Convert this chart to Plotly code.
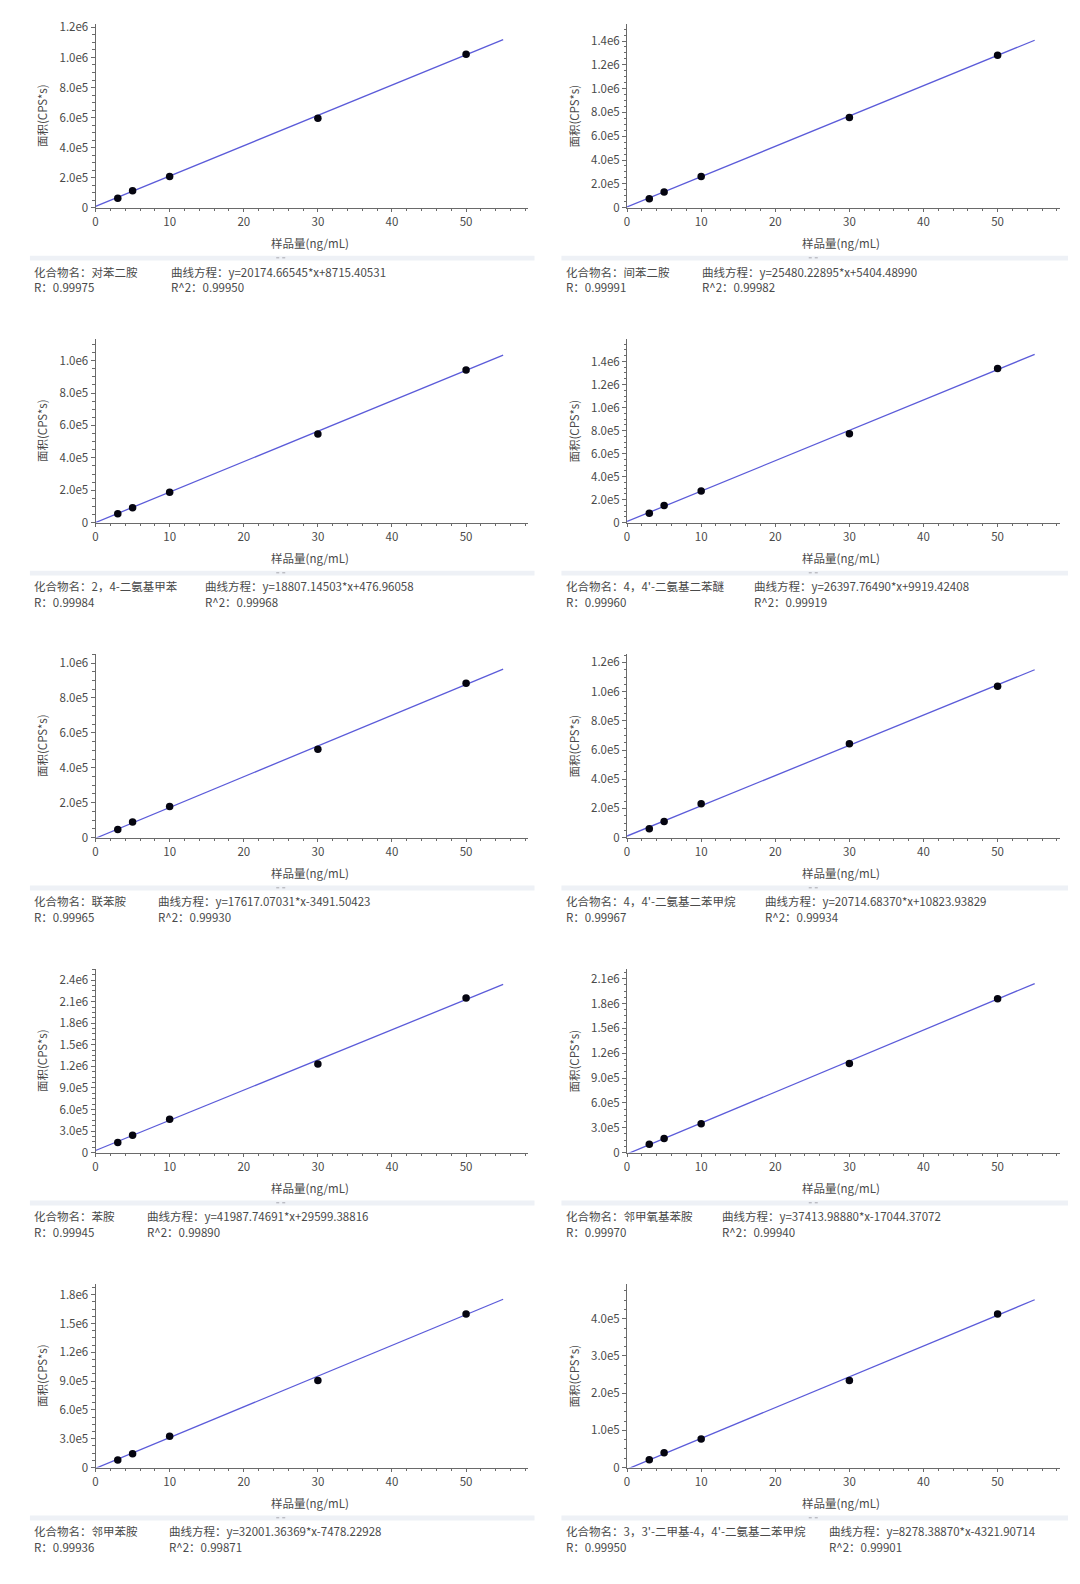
import plotly.graph_objects as go

# ---------------- data ----------------
CONC = [3, 5, 10, 30, 50]          # 样品量 (ng/mL)
LINE_X = [0, 55]                    # span of fitted line

NAMES = ["对苯二胺", "间苯二胺", "2，4-二氨基甲苯", "4，4'-二氨基二苯醚", "联苯胺",
         "4，4'-二氨基二苯甲烷", "苯胺", "邻甲氧基苯胺", "邻甲苯胺",
         "3，3'-二甲基-4，4'-二氨基二苯甲烷"]

AREA_1 = [62000, 112000, 207000, 596000, 1022000]
AREA_2 = [75000, 132000, 262000, 758000, 1280000]
AREA_3 = [55000, 92000, 188000, 548000, 942000]
AREA_4 = [82000, 149000, 275000, 772000, 1338000]
AREA_5 = [47000, 89000, 178000, 506000, 884000]
AREA_6 = [61000, 111000, 232000, 643000, 1037000]
AREA_7 = [142000, 243000, 464000, 1233000, 2150000]
AREA_8 = [100000, 171000, 347000, 1075000, 1858000]
AREA_9 = [80000, 145000, 327000, 908000, 1600000]
AREA_10 = [21000, 40000, 77000, 234000, 413000]
AREAS = [AREA_1, AREA_2, AREA_3, AREA_4, AREA_5, AREA_6, AREA_7, AREA_8, AREA_9, AREA_10]

SLOPES = [20174.66545, 25480.22895, 18807.14503, 26397.76490, 17617.07031,
          20714.68370, 41987.74691, 37413.98880, 32001.36369, 8278.38870]
INTERCEPTS = [8715.40531, 5404.48990, 476.96058, 9919.42408, -3491.50423,
              10823.93829, 29599.38816, -17044.37072, -7478.22928, -4321.90714]
R_VALUES = ["0.99975", "0.99991", "0.99984", "0.99960", "0.99965",
            "0.99967", "0.99945", "0.99970", "0.99936", "0.99950"]
R2_VALUES = ["0.99950", "0.99982", "0.99968", "0.99919", "0.99930",
             "0.99934", "0.99890", "0.99940", "0.99871", "0.99901"]

X_TICKS = [0, 10, 20, 30, 40, 50]
Y_TICKS = [
    [0, 2e5, 4e5, 6e5, 8e5, 1e6, 1.2e6],
    [0, 2e5, 4e5, 6e5, 8e5, 1e6, 1.2e6, 1.4e6],
    [0, 2e5, 4e5, 6e5, 8e5, 1e6],
    [0, 2e5, 4e5, 6e5, 8e5, 1e6, 1.2e6, 1.4e6, 1.6e6],
    [0, 2e5, 4e5, 6e5, 8e5, 1e6],
    [0, 2e5, 4e5, 6e5, 8e5, 1e6, 1.2e6],
    [0, 3e5, 6e5, 9e5, 1.2e6, 1.5e6, 1.8e6, 2.1e6, 2.4e6],
    [0, 3e5, 6e5, 9e5, 1.2e6, 1.5e6, 1.8e6, 2.1e6],
    [0, 3e5, 6e5, 9e5, 1.2e6, 1.5e6, 1.8e6],
    [0, 1e5, 2e5, 3e5, 4e5],
]
Y_TICK_TEXT = [
    ["0", "2.0e5", "4.0e5", "6.0e5", "8.0e5", "1.0e6", "1.2e6"],
    ["0", "2.0e5", "4.0e5", "6.0e5", "8.0e5", "1.0e6", "1.2e6", "1.4e6"],
    ["0", "2.0e5", "4.0e5", "6.0e5", "8.0e5", "1.0e6"],
    ["0", "2.0e5", "4.0e5", "6.0e5", "8.0e5", "1.0e6", "1.2e6", "1.4e6", "1.6e6"],
    ["0", "2.0e5", "4.0e5", "6.0e5", "8.0e5", "1.0e6"],
    ["0", "2.0e5", "4.0e5", "6.0e5", "8.0e5", "1.0e6", "1.2e6"],
    ["0", "3.0e5", "6.0e5", "9.0e5", "1.2e6", "1.5e6", "1.8e6", "2.1e6", "2.4e6"],
    ["0", "3.0e5", "6.0e5", "9.0e5", "1.2e6", "1.5e6", "1.8e6", "2.1e6"],
    ["0", "3.0e5", "6.0e5", "9.0e5", "1.2e6", "1.5e6", "1.8e6"],
    ["0", "1.0e5", "2.0e5", "3.0e5", "4.0e5"],
]
Y_MAX = [1.222e6, 1.542e6, 1.133e6, 1.594e6, 1.051e6, 1.257e6, 2.552e6, 2.215e6, 1.910e6, 4.93e5]
Y_MINOR = [5e4, 5e4, 5e4, 5e4, 5e4, 5e4, 7.5e4, 7.5e4, 7.5e4, 2.5e4]
X_MAX = 58.4
# x-position of the equation column (px) for each panel
EQ_COL_X = [166, 699, 201, 751, 153.5, 762, 142.5, 719, 164.5, 826]

# ---------------- layout ----------------
W, H = 1080, 1584
FONT = "Noto Sans CJK SC, Noto Sans, sans-serif"
LINE_COLOR = "#5b5bd9"
AXIS_COLOR = "#6a6a6a"
TEXT_COLOR = "#4a4a4a"

PLOT_LEFT = [92.8, 625.8]
PLOT_W = 434.0
ROW0_ZERO = 203.3
ROW_STEP = 317.6
PLOT_H = 185.0

fig = go.Figure()
layout = dict(width=W, height=H, margin=dict(l=0, r=0, t=0, b=0, pad=0),
              paper_bgcolor="white", plot_bgcolor="white", showlegend=False,
              font=dict(family=FONT, size=11, color=TEXT_COLOR))
annotations = []
shapes = []

def px_x(p):
    return p / W

def px_y(p):
    return 1 - p / H

for i in range(10):
    row, col = divmod(i, 2)
    k = "" if i == 0 else str(i + 1)
    x0 = PLOT_LEFT[col]
    y_zero = ROW0_ZERO + ROW_STEP * row
    y_top = y_zero - PLOT_H

    fig.add_trace(go.Scatter(
        x=LINE_X, y=[SLOPES[i] * x + INTERCEPTS[i] for x in LINE_X],
        mode="lines", line=dict(color=LINE_COLOR, width=1.3),
        xaxis="x" + k, yaxis="y" + k, hoverinfo="skip"))
    fig.add_trace(go.Scatter(
        x=CONC, y=AREAS[i], mode="markers",
        marker=dict(color="#050510", size=7.5),
        xaxis="x" + k, yaxis="y" + k, cliponaxis=False))

    layout["xaxis" + k] = dict(
        domain=[px_x(x0), px_x(x0 + PLOT_W)], anchor="y" + k,
        range=[0, X_MAX], tickmode="array", tickvals=X_TICKS,
        showgrid=False, zeroline=False, showline=True, linecolor=AXIS_COLOR, linewidth=1,
        ticks="outside", ticklen=3.5, tickcolor=AXIS_COLOR,
        minor=dict(tickmode="linear", tick0=0, dtick=2, ticks="outside",
                   ticklen=2.5, tickcolor=AXIS_COLOR, showgrid=False),
        tickfont=dict(size=11.5, color=TEXT_COLOR, family=FONT), fixedrange=True)
    layout["yaxis" + k] = dict(
        domain=[px_y(y_zero), px_y(y_top)], anchor="x" + k,
        range=[0, Y_MAX[i]], tickmode="array", tickvals=Y_TICKS[i], ticktext=Y_TICK_TEXT[i],
        showgrid=False, zeroline=False, showline=True, linecolor=AXIS_COLOR, linewidth=1,
        ticks="outside", ticklen=4, tickcolor=AXIS_COLOR,
        minor=dict(tickmode="linear", tick0=0, dtick=Y_MINOR[i], ticks="outside",
                   ticklen=2.5, tickcolor=AXIS_COLOR, showgrid=False),
        tickfont=dict(size=11.5, color=TEXT_COLOR, family=FONT), fixedrange=True)

    # axis titles
    annotations.append(dict(
        text="样品量(ng/mL)", x=px_x(x0 + PLOT_W / 2 - 2), y=px_y(y_zero + 36),
        xref="paper", yref="paper", xanchor="center", yanchor="middle",
        showarrow=False, font=dict(size=11.5, color=TEXT_COLOR, family=FONT)))
    annotations.append(dict(
        text="面积(CPS*s)", x=px_x(x0 - 53.5), y=px_y((y_zero + y_top) / 2),
        xref="paper", yref="paper", xanchor="center", yanchor="middle",
        textangle=-90, showarrow=False, font=dict(size=11.5, color=TEXT_COLOR, family=FONT)))

    # separator band with handle
    band_l = 27 if col == 0 else 560
    band_r = 533 if col == 0 else 1068
    shapes.append(dict(type="rect", xref="paper", yref="paper",
                       x0=px_x(band_l), x1=px_x(band_r),
                       y0=px_y(y_zero + 48.4), y1=px_y(y_zero + 53.4),
                       fillcolor="#eef1f6", line=dict(width=0), layer="below"))
    hc = (band_l + band_r) / 2
    shapes.append(dict(type="line", xref="paper", yref="paper",
                       x0=px_x(hc - 6), x1=px_x(hc + 6),
                       y0=px_y(y_zero + 50.6), y1=px_y(y_zero + 50.6),
                       line=dict(color="#a8a8b0", width=1, dash="dot")))

    # info text
    tx = 29.5 if col == 0 else 562.5
    sign = "+" if INTERCEPTS[i] >= 0 else ""
    eq = "曲线方程：y={:.5f}*x{}{:.5f}".format(SLOPES[i], sign, INTERCEPTS[i])
    for text, xx, yy in [("化合物名：" + NAMES[i], tx, y_zero + 64.4),
                         ("R：" + R_VALUES[i], tx, y_zero + 80.0),
                         (eq, EQ_COL_X[i], y_zero + 64.4),
                         ("R^2：" + R2_VALUES[i], EQ_COL_X[i], y_zero + 80.0)]:
        annotations.append(dict(
            text=text, x=px_x(xx), y=px_y(yy), xref="paper", yref="paper",
            xanchor="left", yanchor="middle", showarrow=False,
            font=dict(size=11.5, color=TEXT_COLOR, family=FONT)))

layout["annotations"] = annotations
layout["shapes"] = shapes
fig.update_layout(**layout)
fig.write_html(
    "out.html",
    config={"displayModeBar": False},
    post_script="document.body.style.margin='0';document.body.style.padding='0';"
                "document.documentElement.style.overflow='hidden';",
)
